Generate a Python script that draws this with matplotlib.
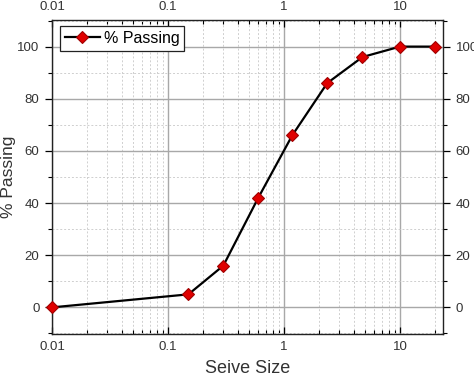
import matplotlib
matplotlib.use("Agg")
import matplotlib.pyplot as plt
from matplotlib.ticker import LogLocator, FixedLocator, NullFormatter, MultipleLocator

plt.rcParams['font.family'] = ['Liberation Sans', 'DejaVu Sans']

sieve_size = [0.01, 0.15, 0.3, 0.6, 1.18, 2.36, 4.75, 10, 20]
passing = [0, 5, 16, 42, 66, 86, 96, 100, 100]
x_ticks = [0.01, 0.1, 1, 10]
x_tick_labels = ["0.01", "0.1", "1", "10"]
y_ticks = [0, 20, 40, 60, 80, 100]

fig = plt.figure(figsize=(4.74, 3.81), dpi=100)
ax = fig.add_axes([0.1097, 0.1234, 0.8249, 0.8241])

ax.set_xscale('log')
ax.set_xlim(0.01, 23.5)
ax.set_ylim(-10.2, 110.2)

ax.plot(sieve_size, passing, color='black', lw=1.6, marker='D', ms=6,
        mfc='#e00000', mec='#a00000', mew=0.8, label='% Passing', zorder=5, clip_on=False)

ax.xaxis.set_major_locator(FixedLocator(x_ticks))
ax.set_xticklabels(x_tick_labels)
ax.xaxis.set_minor_locator(LogLocator(base=10, subs=range(2, 10), numticks=20))
ax.xaxis.set_minor_formatter(NullFormatter())
ax.yaxis.set_major_locator(FixedLocator(y_ticks))
ax.yaxis.set_minor_locator(MultipleLocator(10))

ax.grid(which='major', color='#a8a8a8', lw=1.0, ls='-')
ax.grid(which='minor', color='#cfcfcf', lw=0.7, ls=(0, (2, 2)))
ax.set_axisbelow(True)

ax.tick_params(axis='x', which='both', direction='in', top=True, bottom=True,
               labeltop=True, labelbottom=True, labelsize=9.5, colors='black',
               labelcolor='#333333', pad=5)
ax.tick_params(axis='y', which='both', direction='out', left=True, right=True,
               labelleft=True, labelright=True, labelsize=9.5, labelcolor='#333333', pad=4)
ax.tick_params(which='major', length=5, width=0.9)
ax.tick_params(which='minor', length=3, width=0.8)

for s in ax.spines.values():
    s.set_linewidth(1.0)
    s.set_color('#222222')

ax.set_xlabel('Seive Size', fontsize=13, color='#333333', labelpad=5)
ax.set_ylabel('% Passing', fontsize=12.5, color='#333333')
ax.yaxis.set_label_coords(-0.092, 0.5)

leg = ax.legend(loc='upper left', bbox_to_anchor=(0.02, 0.981), fontsize=11.5, frameon=True,
                fancybox=False, edgecolor='#222222', framealpha=1, borderpad=0.3,
                handlelength=2.2, handletextpad=0.25, borderaxespad=0.0)
leg.get_frame().set_linewidth(0.9)

fig.savefig('out.png', dpi=100)
